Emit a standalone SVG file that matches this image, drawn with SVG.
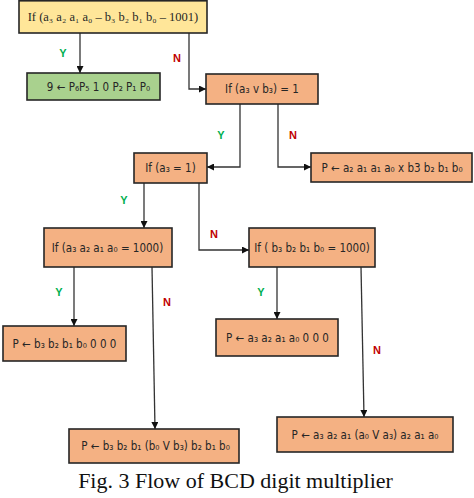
<svg xmlns="http://www.w3.org/2000/svg" width="474" height="498" viewBox="0 0 474 498">
<defs>
<marker id="arr" viewBox="0 0 10 10" refX="10" refY="5" markerWidth="7" markerHeight="7" markerUnits="userSpaceOnUse" orient="auto">
<path d="M0,0 L10,5 L0,10 z" fill="#111"/>
</marker>
<style>
.box{stroke:#262626;stroke-width:1.6}
.o{fill:#F4B183}
.y{fill:#FFE699}
.g{fill:#A9D18E}
.t{font-family:"DejaVu Sans Condensed","Liberation Sans",sans-serif;font-stretch:condensed;font-size:11.5px;fill:#262626;text-anchor:middle;dominant-baseline:central}
.ts{font-family:"Liberation Serif","DejaVu Serif",serif;font-size:12.5px;fill:#262626;text-anchor:middle;dominant-baseline:central}
.c{fill:none;stroke:#333;stroke-width:1.3;marker-end:url(#arr)}
.ly{font-family:"Liberation Sans",sans-serif;font-size:11px;font-weight:bold;fill:#00B050;text-anchor:middle;dominant-baseline:central}
.ln{font-family:"Liberation Sans",sans-serif;font-size:11px;font-weight:bold;fill:#C00000;text-anchor:middle;dominant-baseline:central}
.cap{font-family:"Liberation Serif","Times New Roman",serif;font-size:22px;fill:#111;text-anchor:middle}
</style>
</defs>
<rect width="474" height="498" fill="#fff"/>
<g id="connectors">
<path class="c" d="M80,33 V73"/>
<path class="c" d="M189,33 V89 H206"/>
<path class="c" d="M240,104 V167 H207"/>
<path class="c" d="M278,104 V167 H311"/>
<path class="c" d="M144,183 V228"/>
<path class="c" d="M199,183 V250 H249"/>
<path class="c" d="M74,267 V326"/>
<path class="c" d="M152,267 L155,429"/>
<path class="c" d="M277,267 V319"/>
<path class="c" d="M361,267 L364,417"/>
<text class="ly" x="63" y="53">Y</text>
<text class="ln" x="177" y="58">N</text>
<text class="ly" x="221" y="135">Y</text>
<text class="ln" x="293" y="135">N</text>
<text class="ly" x="124" y="200">Y</text>
<text class="ln" x="214" y="234">N</text>
<text class="ly" x="59" y="292">Y</text>
<text class="ln" x="167" y="302">N</text>
<text class="ly" x="261" y="292">Y</text>
<text class="ln" x="377" y="350">N</text>
</g>
<g id="n1"><rect class="box y" x="19" y="0.8" width="188" height="32.2"/><text class="ts" x="113" y="17">If (a₃ a₂ a₁ a₀ – b₃ b₂ b₁ b₀ – 1001)</text></g>
<g id="n2"><rect class="box g" x="27" y="73" width="133" height="27"/><text class="t" x="98.5" y="87">9 ← P₆P₅ 1 0 P₂ P₁ P₀</text></g>
<g id="n3"><rect class="box o" x="206" y="74" width="112" height="30"/><text class="t" x="262" y="89">If (a₃ v b₃) = 1</text></g>
<g id="n4"><rect class="box o" x="311" y="153" width="161" height="29"/><text class="t" x="392" y="168">P ← a₂ a₁ a₁ a₀ x b3 b₂ b₁ b₀</text></g>
<g id="n5"><rect class="box o" x="134" y="153" width="73" height="30"/><text class="t" x="170.5" y="168">If (a₃ = 1)</text></g>
<g id="n6"><rect class="box o" x="44" y="228" width="128" height="39"/><text class="t" x="107.5" y="248">If (a₃ a₂ a₁ a₀ = 1000)</text></g>
<g id="n7"><rect class="box o" x="249" y="228" width="126" height="39"/><text class="t" x="312" y="248">If ( b₃ b₂ b₁ b₀ = 1000)</text></g>
<g id="n8"><rect class="box o" x="3" y="326" width="123" height="35"/><text class="t" x="64.5" y="344">P ← b₃ b₂ b₁ b₀ 0 0 0</text></g>
<g id="n9"><rect class="box o" x="216" y="319" width="122" height="37"/><text class="t" x="277.5" y="338">P ← a₃ a₂ a₁ a₀ 0 0 0</text></g>
<g id="n10"><rect class="box o" x="69" y="429" width="170" height="34"/><text class="t" x="155.5" y="446">P ← b₃ b₂ b₁ (b₀ V b₃) b₂ b₁ b₀</text></g>
<g id="n11"><rect class="box o" x="277" y="417" width="176" height="35"/><text class="t" x="365" y="435">P ← a₃ a₂ a₁ (a₀ V a₃) a₂ a₁ a₀</text></g>
<text class="cap" x="235.5" y="488">Fig. 3 Flow of BCD digit multiplier</text>
</svg>
